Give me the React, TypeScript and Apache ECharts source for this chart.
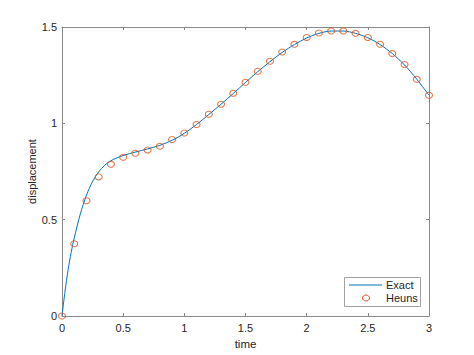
import React, { useEffect, useRef } from "react";
import * as echarts from "echarts";

const exactT = [0, 0.025, 0.05, 0.075, 0.1, 0.15, 0.2, 0.25, 0.3, 0.35, 0.4, 0.45, 0.5, 0.6, 0.7, 0.8, 0.9, 1.0, 1.1, 1.2, 1.3, 1.4, 1.5, 1.6, 1.7, 1.8, 1.9, 2.0, 2.1, 2.2, 2.3, 2.4, 2.5, 2.6, 2.7, 2.8, 2.9, 3.0];
const exactY = [0, 0.13, 0.24, 0.33, 0.405, 0.53, 0.627, 0.698, 0.748, 0.783, 0.806, 0.821, 0.833, 0.851, 0.867, 0.886, 0.912, 0.948, 0.994, 1.046, 1.099, 1.155, 1.212, 1.268, 1.320, 1.368, 1.409, 1.443, 1.467, 1.479, 1.479, 1.467, 1.444, 1.409, 1.362, 1.303, 1.229, 1.146];

const heunT = [0, 0.1, 0.2, 0.3, 0.4, 0.5, 0.6, 0.7, 0.8, 0.9, 1.0, 1.1, 1.2, 1.3, 1.4, 1.5, 1.6, 1.7, 1.8, 1.9, 2.0, 2.1, 2.2, 2.3, 2.4, 2.5, 2.6, 2.7, 2.8, 2.9, 3.0];
const heunY = [0, 0.375, 0.598, 0.722, 0.787, 0.824, 0.845, 0.862, 0.881, 0.916, 0.950, 0.994, 1.047, 1.099, 1.156, 1.213, 1.270, 1.322, 1.370, 1.410, 1.446, 1.469, 1.479, 1.479, 1.467, 1.446, 1.410, 1.362, 1.305, 1.229, 1.146];

const xTicks = { min: 0, max: 3, interval: 0.5 };
const yTicks = { min: 0, max: 1.5, interval: 0.5 };
const legendNames = ["Exact", "Heuns"];

const BLUE = "#0072BD";
const ORANGE = "#D95319";
const AXIS = "#8a8a8a";
const TEXT = "#262626";
const FONT = "'Liberation Sans', Arial, Helvetica, sans-serif";

export default function App() {
  const ref = useRef<HTMLDivElement>(null);
  useEffect(() => {
    if (!ref.current) return;
    const chart = echarts.init(ref.current, undefined, { renderer: "svg" });
    const axisCommon = {
      axisLine: { show: true, onZero: false, lineStyle: { color: AXIS, width: 1 } },
      axisTick: { show: true, inside: true, length: 3, lineStyle: { color: AXIS } },
      splitLine: { show: false },
    };
    chart.setOption({
      animation: false,
      backgroundColor: "#fff",
      textStyle: { fontFamily: FONT },
      grid: { left: 62, top: 27, right: 45, bottom: 39, containLabel: false },
      xAxis: [
        {
          type: "value",
          ...xTicks,
          position: "bottom",
          ...axisCommon,
          axisLabel: { color: TEXT, fontSize: 11, margin: 6, fontFamily: FONT },
          name: "time",
          nameLocation: "middle",
          nameGap: 22,
          nameMoveOverlap: false,
          nameTextStyle: { color: TEXT, fontSize: 11.5, fontFamily: FONT },
        },
        {
          type: "value",
          ...xTicks,
          position: "top",
          ...axisCommon,
          axisLabel: { show: false },
        },
      ],
      yAxis: [
        {
          type: "value",
          ...yTicks,
          position: "left",
          ...axisCommon,
          axisLabel: { color: TEXT, fontSize: 11, margin: 5, fontFamily: FONT },
          name: "displacement",
          nameLocation: "middle",
          nameGap: 25,
          nameMoveOverlap: false,
          nameTextStyle: { color: TEXT, fontSize: 11, fontFamily: FONT },
        },
        {
          type: "value",
          ...yTicks,
          position: "right",
          ...axisCommon,
          axisLabel: { show: false },
        },
      ],
      series: [
        {
          name: legendNames[0],
          type: "line",
          data: exactT.map((t, i) => [t, exactY[i]]),
          smooth: 0.3,
          showSymbol: false,
          symbol: "none",
          lineStyle: { color: BLUE, width: 1 },
          z: 2,
        },
        {
          name: legendNames[1],
          type: "scatter",
          data: heunT.map((t, i) => [t, heunY[i]]),
          symbol: "circle",
          symbolSize: [7, 6],
          itemStyle: { color: "rgba(0,0,0,0)", borderColor: ORANGE, borderWidth: 1 },
          z: 3,
        },
      ],
      graphic: [
        {
          type: "rect",
          left: 344,
          top: 277,
          shape: { x: 0, y: 0, width: 76, height: 29 },
          style: { fill: "#fff", stroke: "#a0a0a0", lineWidth: 1 },
          z: 10,
        },
        {
          type: "line",
          shape: { x1: 349, y1: 285, x2: 382, y2: 285 },
          style: { stroke: BLUE, lineWidth: 1 },
          z: 11,
        },
        {
          type: "text",
          x: 386,
          y: 285,
          style: { text: legendNames[0], fill: TEXT, font: `11px ${FONT}`, verticalAlign: "middle" },
          z: 11,
        },
        {
          type: "ellipse",
          shape: { cx: 366, cy: 298, rx: 3.5, ry: 3 },
          style: { fill: "none", stroke: ORANGE, lineWidth: 1 },
          z: 11,
        },
        {
          type: "text",
          x: 386,
          y: 298,
          style: { text: legendNames[1], fill: TEXT, font: `11px ${FONT}`, verticalAlign: "middle" },
          z: 11,
        },
      ],
    });
    return () => chart.dispose();
  }, []);
  return (
    <div
      ref={ref}
      style={{ position: "fixed", left: 0, top: 0, width: 474, height: 355, background: "#fff" }}
    />
  );
}
